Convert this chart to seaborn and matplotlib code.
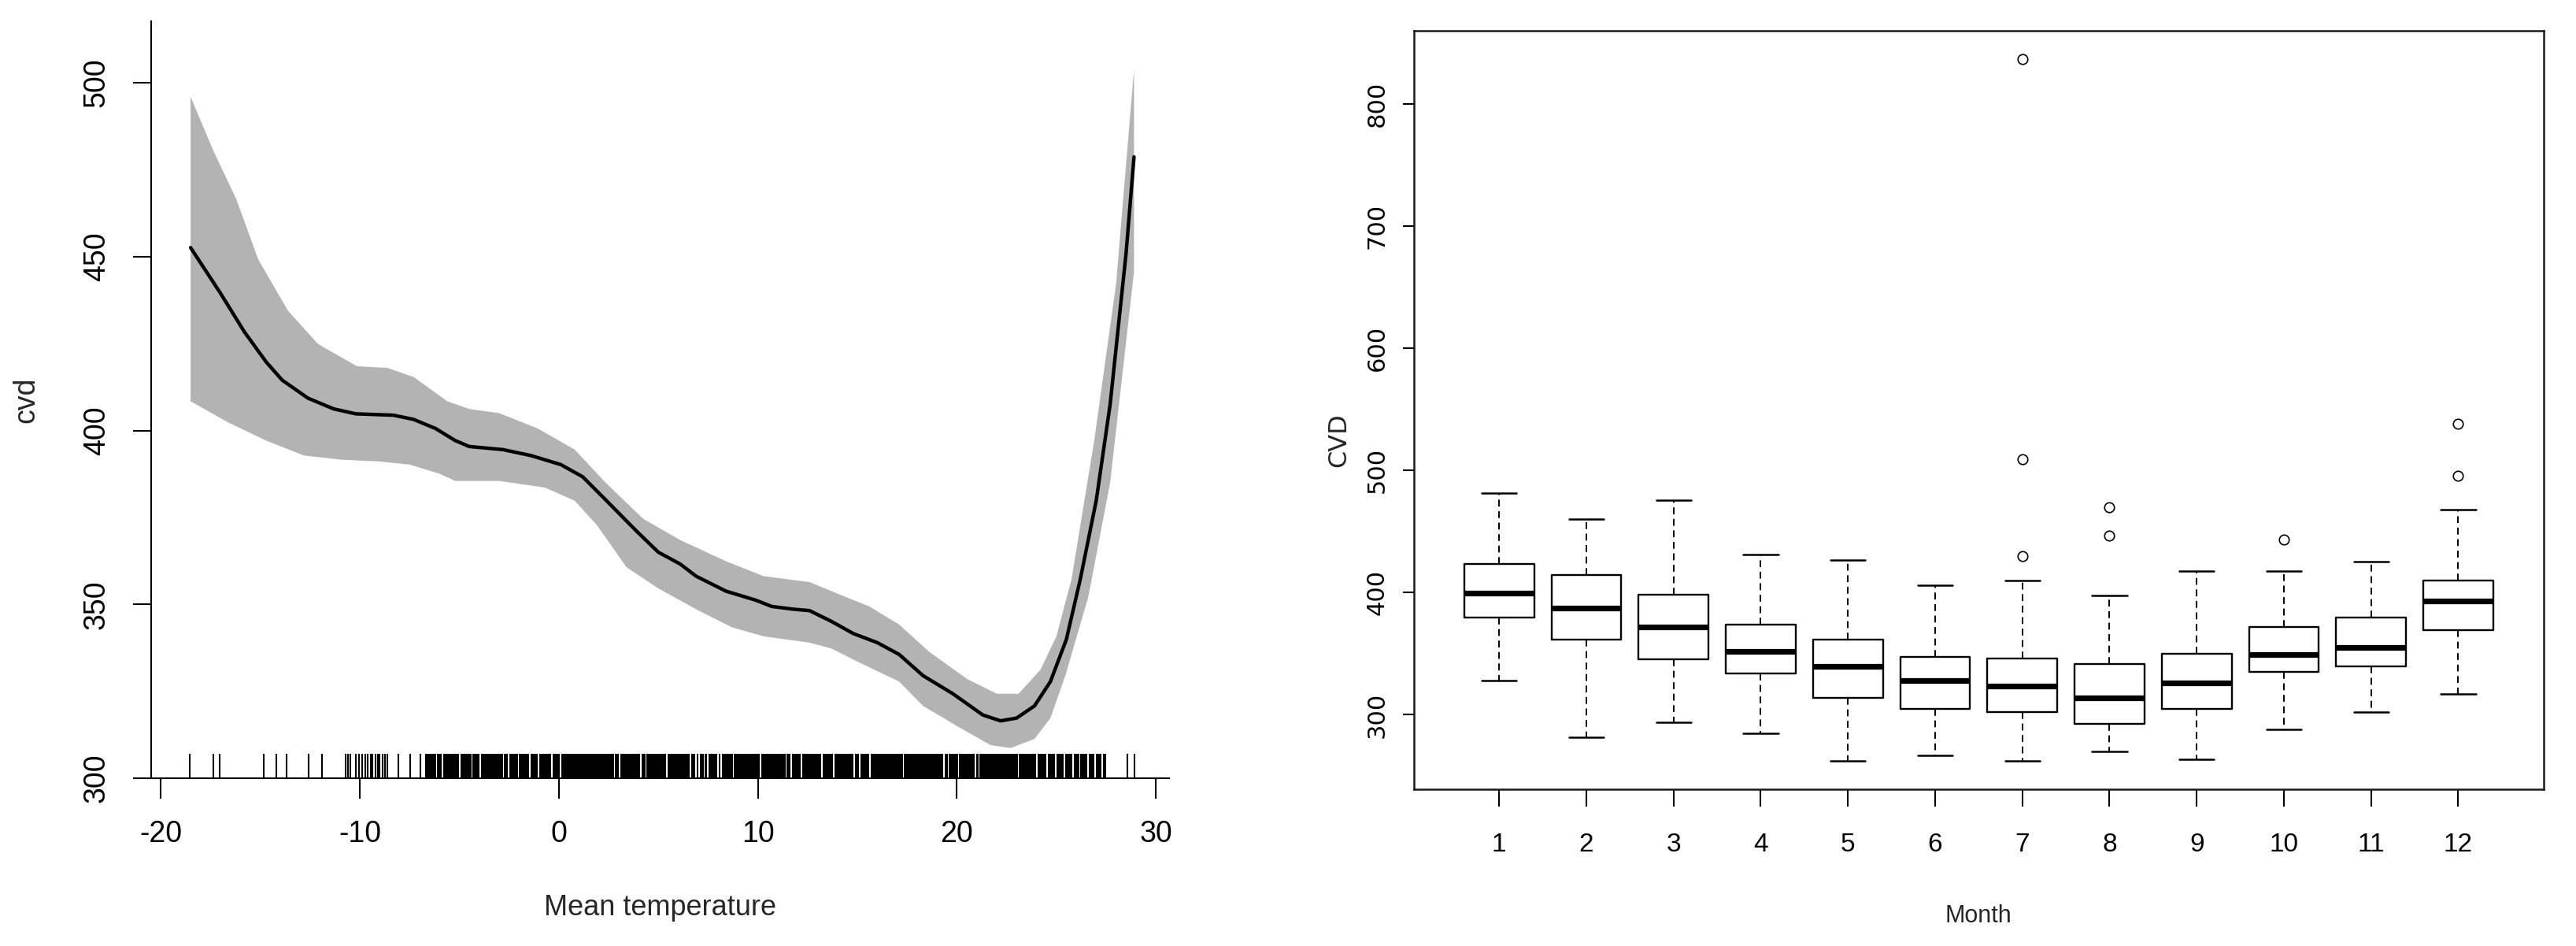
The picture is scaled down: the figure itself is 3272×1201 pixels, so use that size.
import numpy as np
import matplotlib
matplotlib.use("Agg")
import matplotlib.pyplot as plt
from matplotlib import font_manager
import seaborn as sns

# ---- left panel: smooth of cvd against mean temperature ----
fit_temp = [-18.5, -17.0, -15.8, -14.7, -13.9, -12.6, -11.3, -10.2, -8.3, -7.3, -6.2, -5.2,
            -4.5, -2.8, -1.4, 0.1, 1.2, 2.4, 3.9, 5.0, 6.1, 6.9, 8.4, 9.9, 10.7, 11.8, 12.6,
            13.7, 14.8, 16.0, 17.1, 18.3, 19.8, 21.3, 22.2, 23.0, 23.9, 24.7, 25.5, 26.2,
            27.0, 27.7, 28.5, 28.9]
fit_cvd = [452.6, 439.5, 428.4, 419.7, 414.5, 409.3, 406.2, 404.8, 404.4, 403.2, 400.6, 397.1,
           395.4, 394.5, 392.8, 390.2, 386.7, 379.8, 371.1, 365.0, 361.6, 358.1, 353.8, 351.2,
           349.4, 348.6, 348.2, 345.1, 341.6, 339.0, 335.6, 329.5, 324.3, 318.2, 316.5, 317.3,
           320.8, 327.8, 339.9, 357.2, 379.8, 407.5, 450.9, 478.7]

upper_temp = [-18.5, -17.35, -16.2, -15.1, -13.6, -12.1, -10.15, -8.6, -7.3, -5.6, -4.5, -3.0,
              -1.06, 0.8, 2.35, 4.24, 6.1, 8.4, 10.3, 12.6, 13.7, 15.6, 17.1, 18.6, 20.5, 22.0,
              23.1, 24.2, 25.0, 25.76, 26.9, 28.0, 28.9]
upper_cvd = [496.0, 480.4, 466.5, 449.2, 434.4, 424.9, 418.5, 418.0, 415.4, 408.4, 406.2, 405.0,
             400.6, 394.5, 385.0, 374.6, 368.5, 362.4, 358.1, 356.4, 353.8, 349.4, 344.2, 336.4,
             328.6, 324.3, 324.3, 331.2, 340.8, 357.2, 397.1, 442.2, 503.8]

lower_temp = [-18.5, -16.6, -14.7, -12.8, -10.9, -9.0, -7.5, -6.0, -5.2, -3.0, -0.7, 0.8, 1.9,
              3.4, 5.0, 6.9, 8.7, 10.3, 12.6, 13.7, 15.2, 17.1, 18.3, 20.1, 21.7, 22.7, 23.9,
              24.7, 25.45, 26.6, 27.7, 28.9]
lower_cvd = [408.4, 402.3, 397.1, 392.8, 391.6, 391.1, 390.2, 387.6, 385.5, 385.5, 383.6, 379.8,
             372.9, 360.7, 354.6, 348.6, 343.4, 340.8, 339.0, 337.3, 333.0, 327.8, 320.8, 314.7,
             309.5, 308.7, 311.3, 317.3, 329.5, 352.1, 385.0, 445.7]

# rug of observed temperatures: isolated days + one dense stretch broken by small gaps
rug_single = [-18.55, -17.34, -17.04, -14.84, -14.18, -13.69, -12.56, -11.88, -10.73, -10.6,
              -10.46, -10.18, -10.02, -9.88, -9.73, -9.6, -9.46, -9.35, -9.22, -9.1, -9.0,
              -8.85, -8.72, -8.6, -8.05, -7.47, -6.94, 28.57, 28.92]
rug_dense_start = -6.77
rug_dense_end = 27.54
rug_gaps = [-6.14, -5.86, -4.97, -4.36, -3.94, -2.78, -2.53, -2.03, -1.45, -1.03, -0.36, 0.08,
            2.80, 3.05, 4.13, 4.38, 5.42, 6.62, 6.88, 7.05, 7.31, 7.48, 7.99, 8.16, 8.77, 10.14,
            11.42, 11.68, 12.2, 13.22, 13.82, 14.85, 15.11, 15.63, 17.31, 19.36, 19.57, 20.08,
            20.94, 21.11, 23.09, 24.03, 24.54, 24.97, 25.4, 25.83, 26.17, 26.6, 26.94, 27.29]

# ---- right panel: monthly boxplots of CVD ----
months = [1, 2, 3, 4, 5, 6, 7, 8, 9, 10, 11, 12]
whisker_lo = [327.7, 281.5, 293.8, 284.9, 262.0, 266.5, 262.4, 269.7, 263.6, 287.8, 301.9, 316.8]
q1 = [379.4, 361.2, 345.7, 333.5, 313.7, 304.5, 301.9, 292.6, 304.7, 335.3, 339.8, 369.1]
median = [399.4, 387.2, 371.7, 351.9, 339.7, 327.7, 323.6, 314.0, 326.0, 349.0, 355.0, 393.3]
q3 = [423.7, 414.4, 398.1, 373.6, 361.2, 347.4, 346.2, 341.4, 350.2, 372.0, 379.6, 409.8]
whisker_hi = [481.7, 460.4, 475.7, 431.2, 426.7, 405.7, 409.8, 397.7, 417.5, 417.5, 425.1, 468.2]
outliers = [[], [], [], [], [], [], [836.4, 509.3, 430.0], [469.8, 446.9], [], [443.6], [],
            [538.3, 495.6]]

sns.set_style("ticks")
names = {f.name for f in font_manager.fontManager.ttflist}
narrow = "Liberation Sans Narrow" if "Liberation Sans Narrow" in names else "Liberation Sans"
has_narrow = narrow != "Liberation Sans"
plt.rcParams["font.family"] = ["Liberation Sans", "DejaVu Sans"]
plt.rcParams["text.color"] = "black"
plt.rcParams["axes.unicode_minus"] = False

fig = plt.figure(figsize=(32.72, 12.01), dpi=100)
ax1 = fig.add_axes([0.05853, 0.17735, 0.39537, 0.80017])
ax2 = fig.add_axes([0.54881, 0.16594, 0.43866, 0.80134])

# left panel
poly_x = list(upper_temp) + list(lower_temp[::-1])
poly_y = list(upper_cvd) + list(lower_cvd[::-1])
ax1.fill(poly_x, poly_y, color="#b3b3b3", lw=0, zorder=1)
sns.lineplot(x=fit_temp, y=fit_cvd, color="black", linewidth=3.2, estimator=None, ax=ax1,
             zorder=3)
sns.rugplot(x=rug_single, height=0.032, color="black", linewidth=1.5, expand_margins=False,
            ax=ax1)
bounds = [rug_dense_start] + rug_gaps + [rug_dense_end]
g = 0.035
segs = [(a + g, b - a - 2 * g) for a, b in zip(bounds[:-1], bounds[1:])]
ax1.broken_barh(segs, (300, 0.032 * 217.7), facecolors="black", lw=0)

ax1.set_xlim(-20.5, 30.67)
ax1.set_ylim(300, 517.7)
ax1.set_xticks([-20, -10, 0, 10, 20, 30])
ax1.set_yticks([300, 350, 400, 450, 500])
sns.despine(ax=ax1)
for s in ["left", "bottom"]:
    ax1.spines[s].set_linewidth(1.5)
    ax1.spines[s].set_color("black")
ax1.tick_params(axis="x", length=18.5, width=1.5, pad=20, labelsize=27, colors="black")
ax1.tick_params(axis="y", length=16.5, width=1.5, pad=20, labelsize=27, colors="black")
for t in ax1.get_yticklabels():
    t.set_rotation(90)
    t.set_va("center")
ax1.set_xlabel("Mean temperature", fontsize=31 if has_narrow else 26, family=narrow)
ax1.xaxis.set_label_coords(0.5, -0.1707)
ax1.xaxis.label.set_va("center")
ax1.set_ylabel("cvd", fontsize=27)
ax1.yaxis.set_label_coords(-0.1225, 0.5)
ax1.yaxis.label.set_va("center")

# right panel
stats = []
for i in range(len(months)):
    stats.append(dict(med=median[i], q1=q1[i], q3=q3[i], whislo=whisker_lo[i],
                      whishi=whisker_hi[i], fliers=outliers[i]))
ax2.bxp(stats, positions=months, widths=0.8, showfliers=True,
        boxprops=dict(linewidth=1.7, color="black"),
        medianprops=dict(linewidth=5.2, color="black", solid_capstyle="butt"),
        whiskerprops=dict(linewidth=1.4, color="black", linestyle=(0, (4.5, 3))),
        capprops=dict(linewidth=1.8, color="black"),
        flierprops=dict(marker="o", markerfacecolor="none", markeredgecolor="black",
                        markersize=9, markeredgewidth=1.2))
ax2.set_xlim(0.02, 12.98)
ax2.set_ylim(239.2, 859.7)
ax2.set_xticks(months)
ax2.set_xticklabels([str(m) for m in months], family=narrow,
                    fontsize=28 if has_narrow else 24)
ax2.set_yticks([300, 400, 500, 600, 700, 800])
ax2.set_yticklabels(["300", "400", "500", "600", "700", "800"], family="DejaVu Sans",
                    fontsize=22, rotation=90, va="center")
for s in ax2.spines.values():
    s.set_visible(True)
    s.set_linewidth(1.8)
    s.set_color("#1a1a1a")
ax2.tick_params(axis="x", length=16, width=1.5, pad=24, colors="black")
ax2.tick_params(axis="y", length=10, width=1.5, pad=13, colors="black")
ax2.set_xlabel("Month", family=narrow, fontsize=26 if has_narrow else 22)
ax2.xaxis.set_label_coords(0.5, -0.1676)
ax2.xaxis.label.set_va("center")
ax2.set_ylabel("CVD", family="DejaVu Sans", fontsize=23)
ax2.yaxis.set_label_coords(-0.066, 0.46)
ax2.yaxis.label.set_va("center")

fig.savefig("out.png", dpi=100, facecolor="white")
